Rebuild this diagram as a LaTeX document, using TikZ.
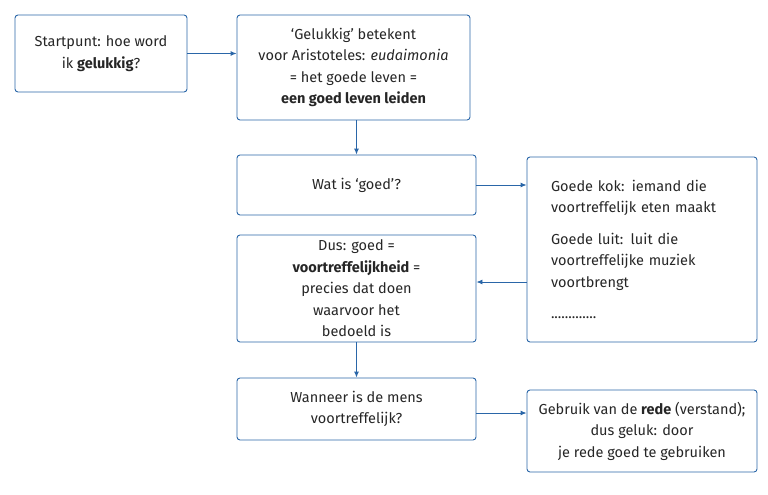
\documentclass[tikz,border=0pt]{standalone}
\usepackage{fontspec}
\setmainfont{Fira Sans}
\usetikzlibrary{arrows.meta}
\definecolor{boxblue}{HTML}{2A66A8}
\tikzset{
  stap/.style={draw=boxblue, line width=0.9pt, rounded corners=3pt, align=center,
    inner sep=4pt, font=\fontsize{14.5}{21.5}\selectfont, text=black!85},
  pijl/.style={draw=boxblue, line width=0.9pt, -{Latex[length=6pt,width=5pt]}}
}
\begin{document}
\begin{tikzpicture}[x=1pt,y=-1pt]
  \useasboundingbox (0,0) rectangle (768,495);
  %linker kolom
  \node[stap, minimum width=172pt, minimum height=77pt] (b1) at (101,53.5)
    {Startpunt: hoe word\\ ik \textbf{gelukkig}?};
  \node[stap, minimum width=233pt, minimum height=105pt] (b2) at (353.5,67.5)
    {‘Gelukkig’ betekent\\ voor Aristoteles: \textit{eudaimonia}\\ = het goede leven =\\ \textbf{een goed leven leiden}};
  \node[stap, minimum width=239pt, minimum height=60pt] (b3) at (356.5,185)
    {Wat is ‘goed’?};
  \node[stap, minimum width=239pt, minimum height=107pt] (b4) at (356.5,288.5)
    {Dus: goed =\\ \textbf{voortreffelijkheid} =\\ precies dat doen\\ waarvoor het\\ bedoeld is};
  \node[stap, minimum width=239pt, minimum height=62pt] (b6) at (356.5,409)
    {Wanneer is de mens\\ voortreffelijk?};
  %rechter kolom
  \node[stap, minimum width=230pt, minimum height=185pt, align=left, text width=182pt] (b5) at (642,249.5)
    {Goede kok: iemand die\\ voortreffelijk eten maakt\\[10pt] Goede luit: luit die\\ voortreffelijke muziek\\ voortbrengt\\[10pt] .............};
  \node[stap, minimum width=230pt, minimum height=82pt] (b7) at (642,431)
    {Gebruik van de \textbf{rede} (verstand);\\ dus geluk: door\\ je rede goed te gebruiken};
  %pijlen
  \draw[pijl] (b1.east) -- (b1.east -| b2.west);
  \draw[pijl] (b2.south -| b3.north) -- (b3.north);
  \draw[pijl] (b3.east) -- (b3.east -| b5.west);
  \draw[pijl] ([yshift=6.5pt]b4.east -| b5.west) -- ([yshift=6.5pt]b4.east);
  \draw[pijl] (b4.south) -- (b6.north);
  \draw[pijl] ([yshift=-4pt]b6.east) -- ([yshift=-4pt]b6.east -| b7.west);
\end{tikzpicture}
\end{document}
